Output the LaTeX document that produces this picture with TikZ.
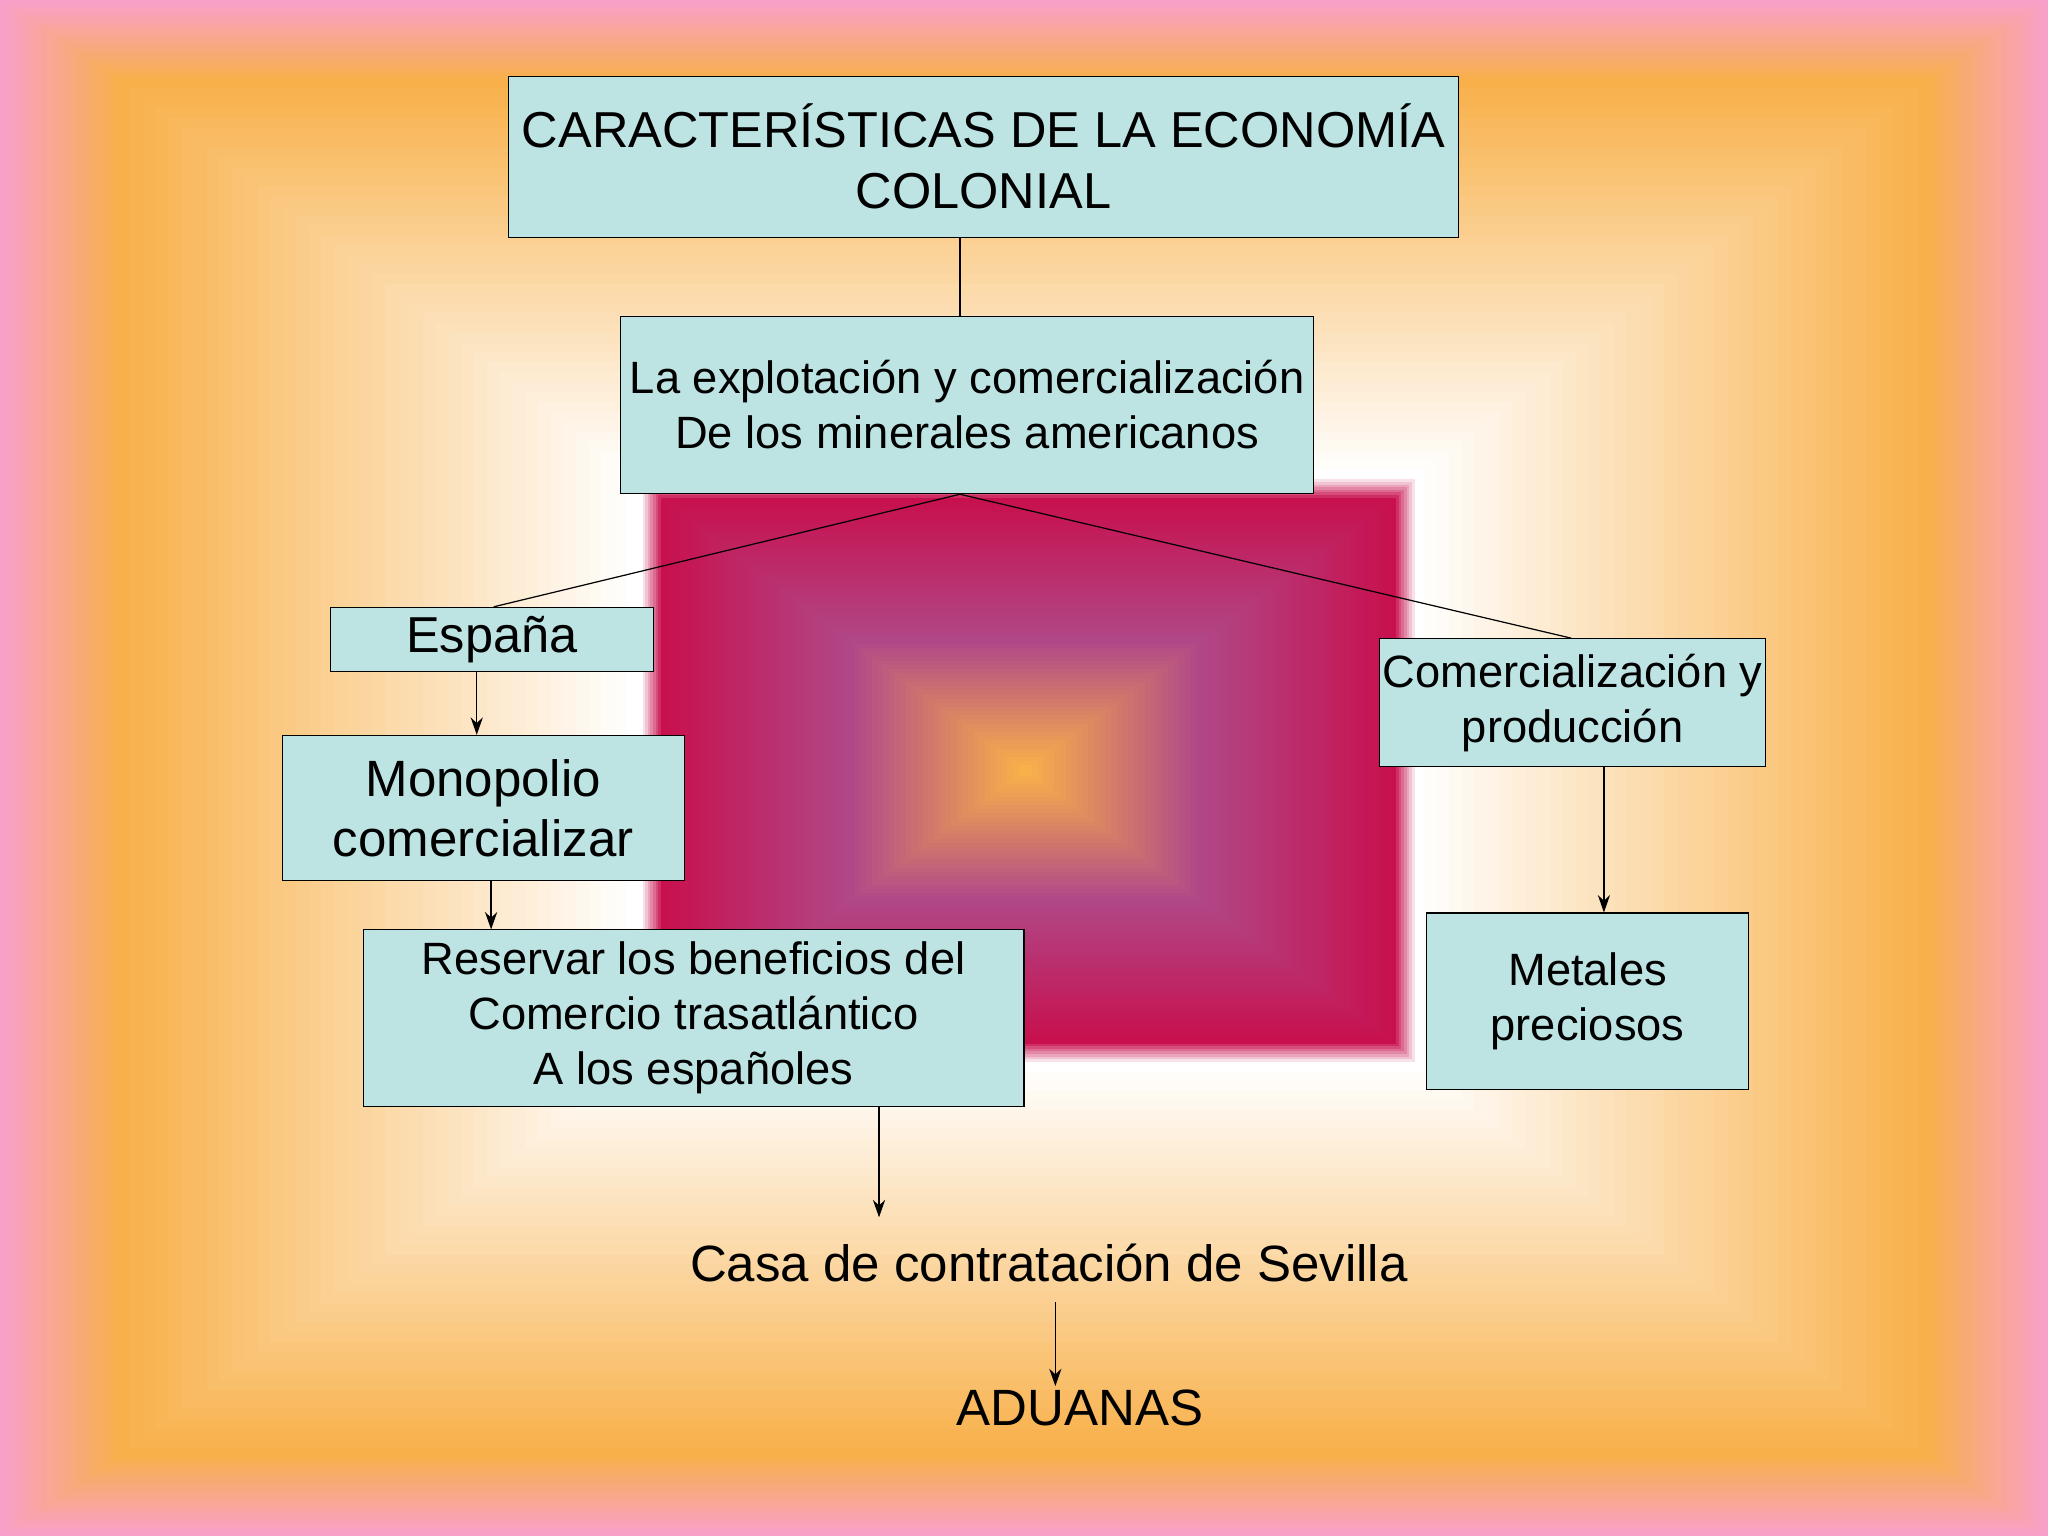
\documentclass[tikz,border=0pt]{standalone}
\usepackage{fontspec}
\setmainfont{Liberation Sans}
\usetikzlibrary{arrows.meta,calc}
\definecolor{pinkb}{HTML}{F9A0C8}
\definecolor{orng}{HTML}{F8B04A}
\definecolor{mag}{HTML}{C8104E}
\definecolor{purp}{HTML}{B04888}
\definecolor{boxc}{HTML}{BDE3E3}
\begin{document}
\begin{tikzpicture}[x=0.75pt,y=-0.75pt,
  box/.style={draw=black,line width=0.6pt,fill=boxc,align=center,inner sep=0pt},
  arr/.style={-{Stealth[length=10pt,width=7pt]},line width=0.7pt},
  ln/.style={line width=0.7pt}]
\useasboundingbox (0,0) rectangle (1568,1176);
\fill[pinkb] (0,0) rectangle (1568,1176);
\foreach \i in {0,...,20}{
  \pgfmathsetmacro\p{100-\i*5}
  \fill[pinkb!\p!orng] (\i*4.5,\i*3) rectangle (1568-\i*4.5,1176-\i*3);}
\foreach \i in {0,...,40}{
  \pgfmathsetmacro\t{\i/40}
  \pgfmathsetmacro\p{100-\i*2.5}
  \fill[orng!\p!white] (90+\t*390,60+\t*300) rectangle (1478-\t*388,1116-\t*296);}
\foreach \i in {0,...,8}{
  \pgfmathsetmacro\p{\i*12.5}
  \fill[mag!\p!white] (490+\i*2,365+\i*2) rectangle (1085-\i*2,815-\i*2);}
\foreach \i in {0,...,30}{
  \pgfmathsetmacro\t{\i/30}
  \pgfmathsetmacro\p{100-\i*3.33}
  \fill[mag!\p!purp] (506+\t*144,381+\t*109) rectangle (1069-\t*149,799-\t*109);}
\foreach \i in {0,...,30}{
  \pgfmathsetmacro\t{\i/30}
  \pgfmathsetmacro\p{100-\i*3.33}
  \fill[purp!\p!orng] (650+\t*130,490+\t*96) rectangle (920-\t*130,690-\t*96);}
\node[box,minimum width=728*0.75pt,minimum height=123*0.75pt,font=\fontsize{29}{35}\selectfont] (title) at (753,120) {CARACTERÍSTICAS DE LA ECONOMÍA\\COLONIAL};
\node[box,minimum width=531*0.75pt,minimum height=136*0.75pt,font=\fontsize{26}{31.5}\selectfont] (expl) at (740.5,310) {La explotación y comercialización\\De los minerales americanos};
\node[box,minimum width=247*0.75pt,minimum height=49*0.75pt,font=\fontsize{29}{32}\selectfont] (esp) at (376.5,489.5) {España};
\node[box,minimum width=308*0.75pt,minimum height=111*0.75pt,font=\fontsize{29.3}{34.5}\selectfont] (mono) at (370,618.5) {Monopolio\\comercializar};
\node[box,minimum width=506*0.75pt,minimum height=135*0.75pt,font=\fontsize{26}{31.5}\selectfont] (res) at (531,779.5) {Reservar los beneficios del\\Comercio trasatlántico\\A los españoles};
\node[box,minimum width=296*0.75pt,minimum height=98*0.75pt,font=\fontsize{26}{31.5}\selectfont] (com) at (1204,538) {Comercialización y\\producción};
\node[box,minimum width=247*0.75pt,minimum height=135*0.75pt,font=\fontsize{26}{31.5}\selectfont] (met) at (1215.5,766.5) {Metales\\preciosos};
\node[font=\fontsize{29.3}{32}\selectfont,inner sep=2pt] (casa) at (803,967) {Casa de contratación de Sevilla};
\node[font=\fontsize{29.3}{32}\selectfont,inner sep=2pt] (adu) at (827,1078) {ADUANAS};
\draw[ln] ([xshift=-18*0.75pt]title.south) -- ([xshift=-5.5*0.75pt]expl.north);
\draw[ln] ([xshift=-5.5*0.75pt]expl.south) -- ([xshift=1.5*0.75pt]esp.north);
\draw[ln] ([xshift=-5.5*0.75pt]expl.south) -- ([xshift=-1*0.75pt]com.north);
\draw[arr] ([xshift=-11.5*0.75pt]esp.south) -- ([xshift=-5*0.75pt]mono.north);
\draw[arr] ([xshift=6*0.75pt]mono.south) -- ([xshift=-155*0.75pt]res.north);
\draw[arr] ([xshift=24*0.75pt]com.south) -- ([xshift=12.5*0.75pt]met.north);
\draw[arr] ([xshift=142*0.75pt]res.south) -- (673,932);
\coordinate (c1) at (808,997);
\draw[arr] (c1) -- (adu.north -| c1);
\end{tikzpicture}
\end{document}
